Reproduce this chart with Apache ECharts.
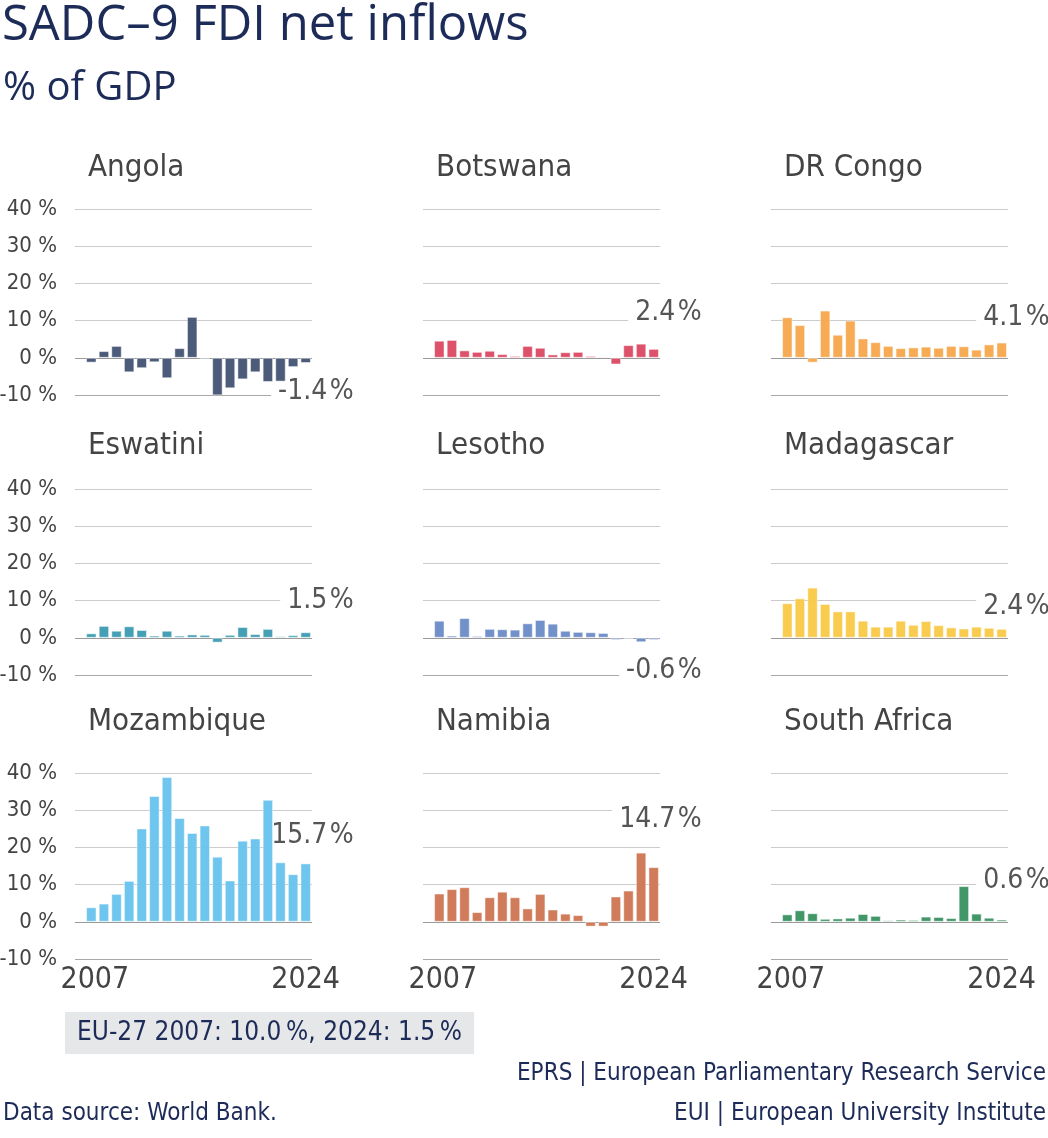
<!DOCTYPE html>
<html>
<head>
<meta charset="utf-8">
<script src="https://cdn.jsdelivr.net/npm/echarts@6/dist/echarts.min.js"></script>
<style>
  html, body { margin: 0; padding: 0; background: #fff; }
  #chart { width: 1048px; height: 1138px; }
</style>
</head>
<body>
<div id="chart"></div>
<script>
var years = ['2007', '2008', '2009', '2010', '2011', '2012', '2013', '2014', '2015',
             '2016', '2017', '2018', '2019', '2020', '2021', '2022', '2023', '2024'];

var countries = ['Angola', 'Botswana', 'DR Congo', 'Eswatini', 'Lesotho', 'Madagascar',
                 'Mozambique', 'Namibia', 'South Africa'];

var yTicks = [-10, 0, 10, 20, 30, 40];

// FDI net inflows, % of GDP, 2007-2024
var angola      = [-1.3, 1.8, 3.2, -3.9, -2.8, -1.2, -5.5, 2.6, 11.0, -0.4, -10.1, -8.2, -5.8, -3.9, -6.5, -6.4, -2.5, -1.4];
var botswana    = [4.6, 4.8, 2.0, 1.6, 1.9, 1.0, 0.5, 3.2, 2.7, 0.9, 1.5, 1.6, 0.5, 0.3, -1.8, 3.4, 3.8, 2.4];
var drCongo     = [10.9, 8.8, -1.3, 12.7, 6.2, 10.0, 5.2, 4.2, 3.2, 2.6, 2.8, 3.0, 2.7, 3.2, 3.1, 2.2, 3.6, 4.1];
var eswatini    = [1.2, 3.2, 1.9, 3.1, 2.1, 0.6, 1.9, 0.6, 0.9, 0.8, -1.3, 0.8, 2.9, 1.0, 2.4, 0.4, 0.7, 1.5];
var lesotho     = [4.6, 0.6, 5.3, 0.5, 2.4, 2.3, 2.2, 3.9, 4.8, 3.8, 1.9, 1.6, 1.5, 1.3, -0.6, -0.4, -1.2, -0.6];
var madagascar  = [9.3, 10.6, 13.5, 9.1, 7.1, 7.1, 4.6, 3.0, 3.0, 4.6, 3.5, 4.5, 3.4, 2.8, 2.5, 3.0, 2.7, 2.4];
var mozambique  = [3.9, 4.9, 7.5, 11.0, 25.1, 33.8, 38.9, 27.9, 23.9, 25.9, 17.5, 11.1, 21.8, 22.4, 32.8, 16.0, 12.8, 15.7];
var namibia     = [7.6, 8.8, 9.3, 2.6, 6.6, 8.1, 6.6, 3.6, 7.5, 3.3, 2.2, 1.8, -1.3, -1.3, 6.8, 8.4, 18.6, 14.7];
var southAfrica = [2.0, 3.1, 2.3, 0.8, 0.9, 1.1, 2.1, 1.6, 0.4, 0.6, 0.5, 1.4, 1.3, 1.0, 9.6, 2.2, 1.1, 0.6];

var seriesData = [angola, botswana, drCongo, eswatini, lesotho, madagascar, mozambique, namibia, southAfrica];

var colors = ['#425273', '#db4862', '#f6a64b', '#3b9bb1', '#6a8ac7', '#f9c846', '#66c2ec', '#cd7450', '#389161'];

// where the end-value label sits relative to the last bar
var labelDy = [29, -36, -25, -32, 31, -22, -28, -47, -39];

var condensed = "'DejaVu Sans Condensed', 'Liberation Sans Narrow', 'Roboto', sans-serif";
var navy = '#1d2b58';

var gridLeft = [75, 423, 771];
var gridTop = [209, 489, 773];
var titleTop = [152, 430, 706];
var gridW = 237, gridH = 186;
var barInset = 10; // bars start a little to the right of where the gridlines start

var grids = [], xAxes = [], yAxes = [], series = [], titles = [];

titles.push({
    text: 'SADC\u20139 FDI net inflows',
    left: 0, top: 2, padding: [0, 2],
    textStyle: { fontFamily: "'Open Sans', sans-serif", fontSize: 49, fontWeight: 'normal', color: navy }
});
titles.push({
    text: '% of GDP',
    left: 0, top: 69, padding: [0, 3],
    textStyle: { fontFamily: "'Open Sans', sans-serif", fontSize: 40, fontWeight: 'normal', color: navy }
});

countries.forEach(function (name, i) {
    var row = Math.floor(i / 3), col = i % 3;
    var data = seriesData[i];
    var last = data[data.length - 1];
    var g = 2 * i;

    // grid for the gridlines and y labels
    grids.push({
        left: gridLeft[col], top: gridTop[row], width: gridW, height: gridH,
        containLabel: false, outerBoundsMode: 'none'
    });
    // grid for the bars
    grids.push({
        left: gridLeft[col] + barInset, top: gridTop[row], width: gridW - barInset, height: gridH,
        containLabel: false, outerBoundsMode: 'none'
    });

    titles.push({
        text: name,
        left: gridLeft[col] + 13, top: titleTop[row], padding: 0,
        textStyle: { fontFamily: condensed, fontSize: 31, fontWeight: 'normal', color: '#444' }
    });

    xAxes.push({
        type: 'category', gridIndex: g, data: years, show: false
    });
    xAxes.push({
        type: 'category', gridIndex: g + 1, data: years,
        axisLine: { show: false }, axisTick: { show: false },
        axisLabel: {
            show: row === 2,
            interval: function (idx) { return idx === 0 || idx === years.length - 1; },
            margin: 6,
            fontFamily: condensed, fontSize: 30, color: '#444',
            formatter: function (v, idx) { return idx === 0 ? '{first|' + v + '}' : v; },
            rich: { first: { fontFamily: condensed, fontSize: 30, color: '#444', padding: [0, 0, 0, 7] } }
        }
    });

    yAxes.push({
        type: 'value', gridIndex: g,
        min: yTicks[0], max: yTicks[yTicks.length - 1], interval: 10,
        axisLine: { show: false }, axisTick: { show: false },
        axisLabel: {
            show: col === 0, margin: 18,
            fontFamily: condensed, fontSize: 22, color: '#444',
            formatter: '{value} %'
        },
        splitLine: {
            lineStyle: { color: ['#a8a8a8', '#9a9a9a', '#cbcbcb', '#cbcbcb', '#cbcbcb', '#cbcbcb'], width: 1.2 }
        }
    });
    yAxes.push({
        type: 'value', gridIndex: g + 1,
        min: yTicks[0], max: yTicks[yTicks.length - 1], interval: 10,
        show: false, splitLine: { show: false }
    });

    series.push({
        type: 'bar', xAxisIndex: g + 1, yAxisIndex: g + 1,
        data: data,
        barCategoryGap: '17%',
        z: 3,
        itemStyle: { color: colors[i], opacity: 0.95, borderColor: 'rgba(255,255,255,0.5)', borderWidth: 1 },
        markPoint: {
            symbol: 'rect', symbolSize: 0, silent: true, z: 1,
            data: [{ coord: [years.length - 1, last], value: last }],
            label: {
                show: true, position: 'inside',
                offset: [50, labelDy[i]],
                align: 'right', verticalAlign: 'middle',
                formatter: function (p) { return p.value.toFixed(1) + '\u200a%'; },
                fontFamily: condensed, fontSize: 28, color: '#555',
                backgroundColor: '#fff', padding: [0, 2, 0, 7]
            }
        }
    });
});

// footer
titles.push({
    text: 'EU-27 2007: 10.0\u2009%, 2024: 1.5\u2009%',
    left: 65, top: 1012, padding: [8, 12, 8, 12],
    backgroundColor: '#e6e7e9',
    textStyle: { fontFamily: condensed, fontSize: 26, fontWeight: 'normal', color: navy }
});
titles.push({
    text: 'EPRS | European Parliamentary Research Service',
    right: 2, top: 1062, padding: 0,
    textStyle: { fontFamily: condensed, fontSize: 24, fontWeight: 'normal', color: navy }
});
titles.push({
    text: 'EUI | European University Institute',
    right: 2, top: 1102, padding: 0,
    textStyle: { fontFamily: condensed, fontSize: 24, fontWeight: 'normal', color: navy }
});
titles.push({
    text: 'Data source: World Bank.',
    left: 3, top: 1102, padding: 0,
    textStyle: { fontFamily: condensed, fontSize: 24, fontWeight: 'normal', color: navy }
});

var myChart = echarts.init(document.getElementById('chart'), null, { renderer: 'canvas' });
myChart.setOption({
    backgroundColor: '#fff',
    animation: false,
    title: titles,
    grid: grids,
    xAxis: xAxes,
    yAxis: yAxes,
    series: series
});
</script>
</body>
</html>
